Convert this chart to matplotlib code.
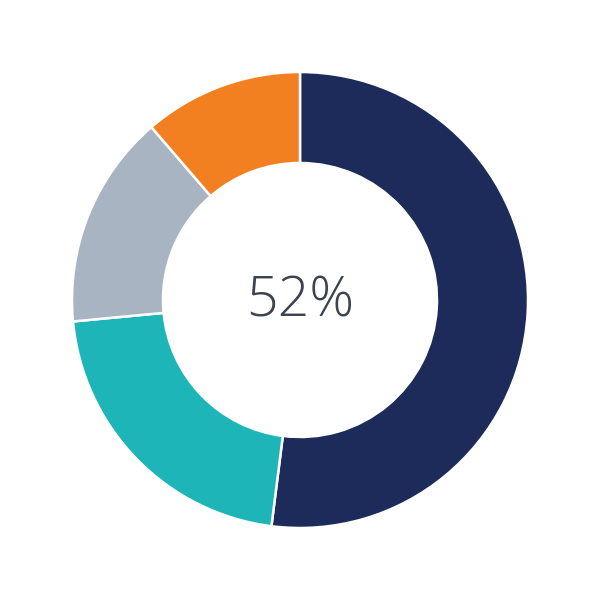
import matplotlib.pyplot as plt

labels = ['Navy', 'Teal', 'Gray', 'Orange']
values = [52, 21.5, 15.2, 11.3]
colors = ['#1c2b5a', '#1db5b8', '#a9b4c2', '#f28021']
center_label = '52%'

fig = plt.figure(figsize=(6, 6), dpi=100)
ax = fig.add_axes([0, 0, 1, 1])
ax.pie(values, colors=colors, startangle=90, counterclock=False,
       radius=228, center=(300, 300),
       wedgeprops=dict(width=91, edgecolor='white', linewidth=1.8))
ax.text(300, 298, center_label, ha='center', va='center', fontsize=40,
        fontweight='light', color='#3b4250', family=['Open Sans', 'DejaVu Sans'])
ax.set_xlim(0, 600)
ax.set_ylim(0, 600)
ax.set_aspect('equal')
ax.axis('off')
fig.savefig('out.png', dpi=100, facecolor='white')
